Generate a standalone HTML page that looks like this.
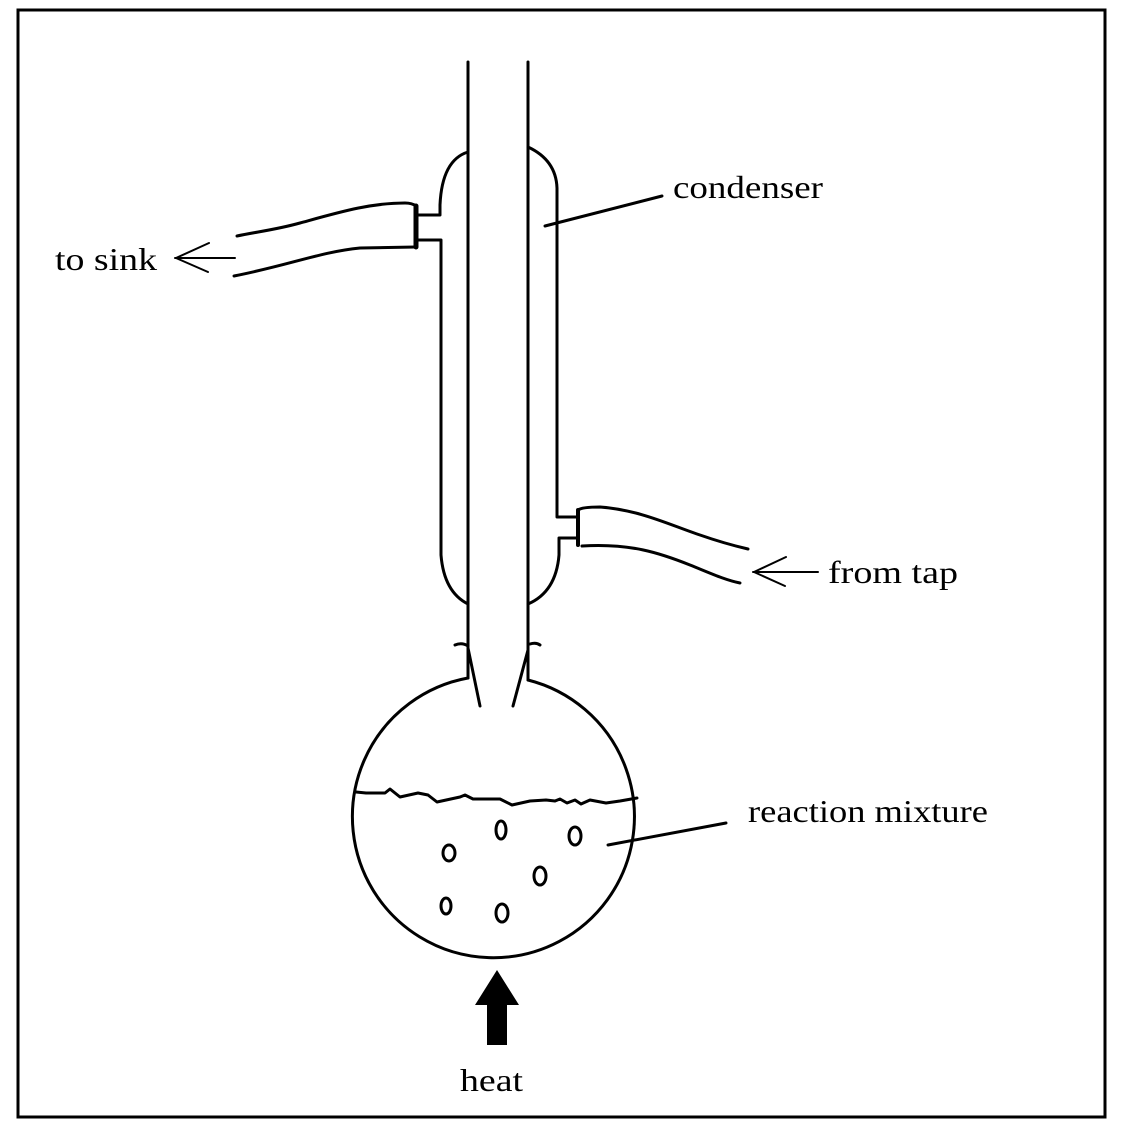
<!DOCTYPE html>
<html><head><meta charset="utf-8"><style>
html,body{margin:0;padding:0;background:#fff;}
svg{display:block;}
text{font-family:"Liberation Serif",serif;font-size:32px;fill:#000;}
</style></head><body>
<svg width="1133" height="1137" viewBox="0 0 1133 1137" xmlns="http://www.w3.org/2000/svg">
<rect x="18" y="10" width="1087" height="1107" fill="none" stroke="#000" stroke-width="3"/>
<g fill="none" stroke="#000" stroke-width="3" stroke-linecap="round" stroke-linejoin="round">
<line x1="468" y1="62" x2="468" y2="678"/>
<line x1="528" y1="62" x2="528" y2="680"/>
<line x1="468" y1="648" x2="480" y2="706"/>
<line x1="528" y1="650" x2="513" y2="706"/>
<path d="M455 645 Q462 642 468 646"/>
<path d="M530 644 Q536 642 540 645"/>
<path d="M468 152 Q442 160 440 205 L440 215 L418 215"/>
<path d="M418 240 L441 240 L441 555 Q444 592 468 604"/>
<path d="M528 147 Q556 160 557 188 L557 517 L577 517"/>
<path d="M577 538 L559 538 L559 555 Q556 592 528 604"/>
<path d="M416 206 L416 247" stroke-width="5"/>
<path d="M416 206 Q412 203 405 203 C370 203 340 212 300 223 C275 230 255 232 237 236"/>
<path d="M416 247 L360 248 C320 252 290 265 234 276"/>
<path d="M578 510 L578 545" stroke-width="4"/>
<path d="M578 510 Q582 507 600 507 C640 510 670 525 700 535 C720 542 735 546 748 549"/>
<path d="M582 546 C630 543 660 553 690 565 C710 573 725 580 740 583"/>
<path d="M235 258 L175 258 M209 243 L176 258 L208 272" stroke-width="2"/>
<path d="M818 572 L753 572 M786 557 L754 572 L785 586" stroke-width="2"/>
<path d="M468 678 A141 141 0 1 0 528 680"/>
<path d="M356 792 L366 793 L385 793 L390 789 L400 797 L418 793 L428 795 L437 802 L460 797 L465 795 L473 799 L500 799 L512 805 L530 801 L546 800 L555 801 L560 799 L567 803 L575 800 L581 804 L590 800 L606 803 L620 801 L637 798"/>
<ellipse cx="449" cy="853" rx="6" ry="8"/>
<ellipse cx="501" cy="830" rx="5" ry="9"/>
<ellipse cx="575" cy="836" rx="6" ry="9"/>
<ellipse cx="540" cy="876" rx="6" ry="9"/>
<ellipse cx="446" cy="906" rx="5" ry="8"/>
<ellipse cx="502" cy="913" rx="6" ry="9"/>
<line x1="545" y1="226" x2="662" y2="196"/>
<line x1="608" y1="845" x2="726" y2="823"/>
</g>
<polygon points="497,970 519,1005 507,1005 507,1045 487,1045 487,1005 475,1005" fill="#000"/>
<text x="55" y="270" textLength="102" lengthAdjust="spacingAndGlyphs">to sink</text>
<text x="673" y="198" textLength="150" lengthAdjust="spacingAndGlyphs">condenser</text>
<text x="828" y="583" textLength="130" lengthAdjust="spacingAndGlyphs">from tap</text>
<text x="748" y="822" textLength="240" lengthAdjust="spacingAndGlyphs">reaction mixture</text>
<text x="460" y="1091" textLength="63" lengthAdjust="spacingAndGlyphs">heat</text>
</svg>
</body></html>
